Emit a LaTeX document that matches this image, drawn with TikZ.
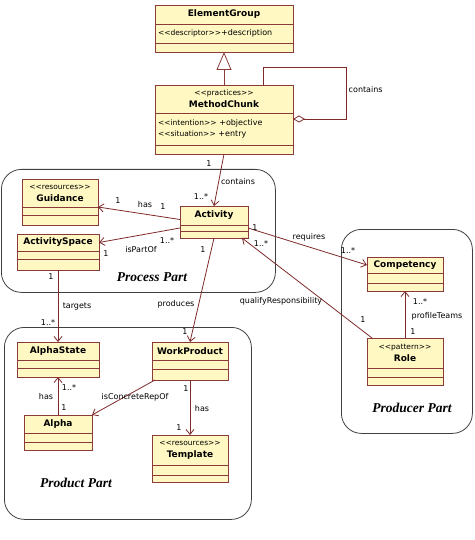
\documentclass[tikz,border=0pt]{standalone}
\usepackage{fontspec}
\setmainfont{DejaVu Sans}
\newfontfamily\partfont{Liberation Serif}
\usetikzlibrary{arrows.meta,positioning}

\definecolor{umlfill}{HTML}{FFF8C2}
\definecolor{umlline}{HTML}{8B3A3A}
\definecolor{linkcol}{HTML}{7F2A2A}

\newcommand{\stereo}[1]{{\mdseries\fontsize{7.5}{12}\selectfont<{}<#1>{}>}}

\tikzset{
  hdr/.style={draw=umlline, fill=umlfill, line width=0.9pt, inner sep=1pt, outer sep=0pt,
    align=center, anchor=north west, font=\fontsize{9}{12}\selectfont\bfseries},
  attr/.style={draw=umlline, fill=umlfill, line width=0.9pt, inner xsep=3pt, inner ysep=1pt,
    outer sep=0pt, align=left, font=\fontsize{8}{11}\selectfont},
  cmp/.style={draw=umlline, fill=umlfill, line width=0.9pt, inner sep=0pt, outer sep=0pt},
  lbl/.style={inner sep=0.5pt, font=\fontsize{8}{9}\selectfont},
  partbox/.style={draw=black!75, line width=0.8pt, rounded corners=20pt, anchor=north west},
  partname/.style={font=\partfont\bfseries\itshape\fontsize{13.5}{15}\selectfont},
  link/.style={draw=linkcol, line width=0.8pt, -{Straight Barb[length=5pt,width=8pt]}},
  gen/.style={draw=umlline, line width=0.8pt, -{Triangle[open,length=18pt,width=15pt]}},
}

\begin{document}
\begin{tikzpicture}[x=1pt,y=-1pt]
  \useasboundingbox (0,0) rectangle (474,540);

  % packages
  \node[partbox, minimum width=274pt, minimum height=123pt] (proc) at (1,169) {};
  \node[partbox, minimum width=247pt, minimum height=192pt] (prod) at (4,327) {};
  \node[partbox, minimum width=131pt, minimum height=204pt] (prodr) at (341,229) {};
  \node[partname] (proc-l) at (152,277) {Process Part};
  \node[partname] (prod-l) at (76,483) {Product Part};
  \node[partname] (prodr-l) at (412,408) {Producer Part};

  % classes
  \node[hdr, minimum width=138pt, minimum height=19pt] (eg) at (155,5) {ElementGroup};
  \node[attr, below=0pt of eg, text width=132pt, minimum height=19pt] (eg-a) {\stereo{descriptor}+description};
  \node[cmp, below=0pt of eg-a, minimum width=138pt, minimum height=9pt] (eg-o) {};

  \node[hdr, minimum width=138pt, minimum height=28pt] (mc) at (155,85) {\stereo{practices}\\MethodChunk};
  \node[attr, below=0pt of mc, text width=132pt, minimum height=32pt] (mc-a) {\stereo{intention} +objective\\\stereo{situation} +entry};
  \node[cmp, below=0pt of mc-a, minimum width=138pt, minimum height=9pt] (mc-o) {};

  \node[hdr, minimum width=68pt, minimum height=19pt] (act) at (180,206) {Activity};
  \node[cmp, below=0pt of act, minimum width=68pt, minimum height=6pt] (act-a) {};
  \node[cmp, below=0pt of act-a, minimum width=68pt, minimum height=7pt] (act-o) {};

  \node[hdr, minimum width=76pt, minimum height=28pt] (gui) at (22,179) {\stereo{resources}\\Guidance};
  \node[cmp, below=0pt of gui, minimum width=76pt, minimum height=8pt] (gui-a) {};
  \node[cmp, below=0pt of gui-a, minimum width=76pt, minimum height=10pt] (gui-o) {};

  \node[hdr, minimum width=82pt, minimum height=17pt] (asp) at (17,234) {ActivitySpace};
  \node[cmp, below=0pt of asp, minimum width=82pt, minimum height=8pt] (asp-a) {};
  \node[cmp, below=0pt of asp-a, minimum width=82pt, minimum height=11pt] (asp-o) {};

  \node[hdr, minimum width=76pt, minimum height=16pt] (comp) at (367,257) {Competency};
  \node[cmp, below=0pt of comp, minimum width=76pt, minimum height=10pt] (comp-a) {};
  \node[cmp, below=0pt of comp-a, minimum width=76pt, minimum height=8pt] (comp-o) {};

  \node[hdr, minimum width=76pt, minimum height=30pt] (role) at (367,338) {\stereo{pattern}\\Role};
  \node[cmp, below=0pt of role, minimum width=76pt, minimum height=9pt] (role-a) {};
  \node[cmp, below=0pt of role-a, minimum width=76pt, minimum height=8pt] (role-o) {};

  \node[hdr, minimum width=82pt, minimum height=18pt] (ast) at (17,342) {AlphaState};
  \node[cmp, below=0pt of ast, minimum width=82pt, minimum height=8pt] (ast-a) {};
  \node[cmp, below=0pt of ast-a, minimum width=82pt, minimum height=9pt] (ast-o) {};

  \node[hdr, minimum width=76pt, minimum height=18pt] (wp) at (152,342) {WorkProduct};
  \node[cmp, below=0pt of wp, minimum width=76pt, minimum height=9pt] (wp-a) {};
  \node[cmp, below=0pt of wp-a, minimum width=76pt, minimum height=11pt] (wp-o) {};

  \node[hdr, minimum width=68pt, minimum height=18pt] (alpha) at (24,415) {Alpha};
  \node[cmp, below=0pt of alpha, minimum width=68pt, minimum height=9pt] (alpha-a) {};
  \node[cmp, below=0pt of alpha-a, minimum width=68pt, minimum height=8pt] (alpha-o) {};

  \node[hdr, minimum width=76pt, minimum height=30pt] (tmpl) at (152,435) {\stereo{resources}\\Template};
  \node[cmp, below=0pt of tmpl, minimum width=76pt, minimum height=10pt] (tmpl-a) {};
  \node[cmp, below=0pt of tmpl-a, minimum width=76pt, minimum height=7pt] (tmpl-o) {};

  % relations
  \coordinate (self1) at (346,119);
  \coordinate (self2) at (346,67);
  \draw[gen] (mc.north) -- (eg-o.south);
  \draw[draw=linkcol, line width=0.8pt, {Diamond[open,length=12pt,width=7pt]}-]
    ([yshift=-34pt]mc.north east) -- (self1) -- (self2) -| ([xshift=-30pt]mc.north east);
  \draw[link] (mc-o.south) -- (act.north);
  \draw[link] ([yshift=-4pt]act.west) -- (gui.south east);
  \draw[link] (act-a.west) -- (asp.east);
  \draw[link] (act-a.east) -- (comp.west);
  \draw[link] ([xshift=5pt]role.north west) -- ([xshift=-6pt]act-o.south east);
  \draw[link] (act-o.south) -- (wp.north);
  \draw[link] (asp-o.south) -- (ast.north);
  \draw[link] (alpha.north) -- (ast-o.south);
  \draw[link] ([xshift=3pt]wp-o.south west) -- (alpha.north east);
  \draw[link] (wp-o.south) -- (tmpl.north);
  \draw[link] (role.north) -- (comp-o.south);

  % labels
  \node[lbl, anchor=west] (l-self) at (348,90) {contains};
  \node[lbl] (l-mc1) at (209,164) {1};
  \node[lbl] (l-cont) at (238,182) {contains};
  \node[lbl] (l-cont2) at (201,197) {1..*};
  \node[lbl] (l-gui1) at (118,201) {1};
  \node[lbl] (l-has) at (145,205) {has};
  \node[lbl] (l-act1) at (163,207) {1};
  \node[lbl] (l-part1) at (167,241) {1..*};
  \node[lbl] (l-part2) at (106,254) {1};
  \node[lbl] (l-part) at (141,250) {isPartOf};
  \node[lbl] (l-asp1) at (51,277) {1};
  \node[lbl] (l-prod1) at (203,250) {1};
  \node[lbl] (l-req1) at (255,228) {1};
  \node[lbl] (l-qual1) at (261,244) {1..*};
  \node[lbl] (l-req) at (309,237) {requires};
  \node[lbl] (l-req2) at (348,251) {1..*};
  \node[lbl] (l-qual) at (281,301) {qualifyResponsibility};
  \node[lbl] (l-qual2) at (363,320) {1};
  \node[lbl] (l-prof1) at (420,302) {1..*};
  \node[lbl] (l-prof) at (437,316) {profileTeams};
  \node[lbl] (l-prof2) at (413,332) {1};
  \node[lbl] (l-targ) at (77,307) {targets};
  \node[lbl] (l-targ2) at (48,323) {1..*};
  \node[lbl] (l-prod) at (176,304) {produces};
  \node[lbl] (l-prod2) at (185,332) {1};
  \node[lbl] (l-ahas) at (46,397) {has};
  \node[lbl] (l-ahas1) at (69,388) {1..*};
  \node[lbl] (l-ahas2) at (64,408) {1};
  \node[lbl] (l-conc) at (135,397) {isConcreteRepOf};
  \node[lbl] (l-thas1) at (186,389) {1};
  \node[lbl] (l-thas) at (202,409) {has};
  \node[lbl] (l-thas2) at (179,428) {1};
\end{tikzpicture}
\end{document}
